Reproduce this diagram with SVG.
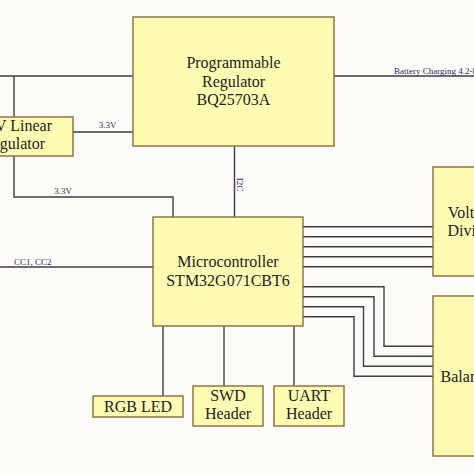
<svg xmlns="http://www.w3.org/2000/svg" width="474" height="474" viewBox="0 0 474 474">
<style>
.box{fill:#fdfcb2;stroke:#8a6b3c;stroke-width:1.4}
.t{font-family:'Liberation Serif','DejaVu Serif',serif;font-size:16px;fill:#222;text-anchor:middle}
.s{font-family:'Liberation Serif','DejaVu Serif',serif;font-size:9px;fill:#2c2c66}
.w{fill:none;stroke:#3e3e3e;stroke-width:1.4}
</style>
<rect x="0" y="0" width="474" height="474" fill="#fdfbf8"/>
<g id="connectors" class="w">
<path d="M0 76H133M14 76V117"/>
<path d="M73 132H133"/>
<path d="M14 156V197H173V217"/>
<path d="M234.5 146V217"/>
<path d="M334 76H474"/>
<path d="M0 267H153"/>
<path d="M163 326V396M224 326V386M294 326V386"/>
<path d="M303 226.7H433M303 236.7H433M303 246.7H433M303 256.7H433M303 266.7H433"/>
<path d="M303 286.7H384V346.3H433M303 296.7H374V356.3H433M303 306.7H363.5V366.3H433M303 316.7H354V376.3H433"/>
</g>
<g id="labels">
<text class="s" x="107.5" y="128" text-anchor="middle">3.3V</text>
<text class="s" x="63" y="194" text-anchor="middle">3.3V</text>
<text class="s" x="14" y="264.5">CC1, CC2</text>
<text class="s" x="394" y="74" font-size="8">Battery Charging 4.2-8.4V</text>
<text class="s" x="237" y="184.5" text-anchor="middle" font-size="8" transform="rotate(90 237 184.5)">I2C</text>
</g>
<g id="prog-regulator">
<rect class="box" x="133" y="17" width="201" height="129"/>
<text class="t" x="233.5" y="68">Programmable</text>
<text class="t" x="233.5" y="86.5">Regulator</text>
<text class="t" x="233.5" y="105">BQ25703A</text>
</g>
<g id="linear-regulator">
<rect class="box" x="-46" y="117" width="119" height="39"/>
<text class="t" x="13.5" y="131">3.3V Linear</text>
<text class="t" x="13.5" y="149">Regulator</text>
</g>
<g id="microcontroller">
<rect class="box" x="153" y="217" width="150" height="109"/>
<text class="t" x="228" y="267">Microcontroller</text>
<text class="t" x="228" y="285.5">STM32G071CBT6</text>
</g>
<g id="voltage-divider">
<rect class="box" x="433" y="167" width="80" height="109"/>
<text class="t" x="472" y="218">Voltage</text>
<text class="t" x="472" y="236">Divider</text>
</g>
<g id="balancing">
<rect class="box" x="433" y="296" width="80" height="160"/>
<text class="t" x="473" y="382">Balancing</text>
</g>
<g id="rgb-led">
<rect class="box" x="93" y="396" width="90" height="21"/>
<text class="t" x="138" y="412">RGB LED</text>
</g>
<g id="swd-header">
<rect class="box" x="193" y="386" width="70" height="40"/>
<text class="t" x="228" y="401">SWD</text>
<text class="t" x="228" y="419">Header</text>
</g>
<g id="uart-header">
<rect class="box" x="274" y="386" width="70" height="40"/>
<text class="t" x="309" y="401">UART</text>
<text class="t" x="309" y="419">Header</text>
</g>
</svg>
